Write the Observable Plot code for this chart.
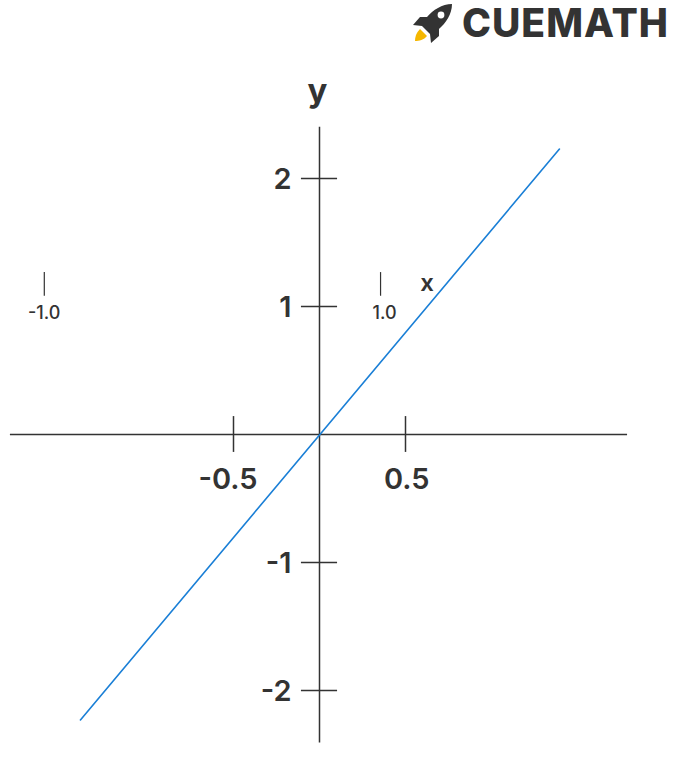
<!DOCTYPE html>
<html>
<head>
<meta charset="utf-8">
<script src="https://cdn.jsdelivr.net/npm/d3@7"></script>
<script src="https://cdn.jsdelivr.net/npm/@observablehq/plot@0.6"></script>
<style>
  html, body { margin: 0; padding: 0; background: #fff; }
  #wrap { position: relative; width: 693px; height: 781px; }
  #logo { position: absolute; left: 412px; top: 3px; width: 275px; display: flex; align-items: center; white-space: nowrap; }
  #logo span { font-family: Inter, "DejaVu Sans", sans-serif; font-weight: 800; font-size: 39px; color: #333; margin-left: 9px; line-height: 40px; letter-spacing: 1px; }
  svg { font-family: Inter, "Noto Sans", sans-serif; }
</style>
</head>
<body>
<div id="wrap">
  <div id="chart"></div>
  <div id="logo">
    <svg width="41" height="40" viewBox="0 0 41 40">
      <path d="M40 1 C30 1 21 7 15 14 L8 14 L1 22 L10 23 L18 31 L19 40 L27 33 L27 26 C34 20 40 11 40 1 Z" fill="#333"/>
      <circle cx="29" cy="12" r="3.4" fill="#fff"/>
      <path d="M8 26 L15 33 C12 37 7 38 3 38 C3 34 4 30 8 26 Z" fill="#f5b700"/>
    </svg>
    <span>CUEMATH</span>
  </div>
</div>
<script>
// ---- data ----
const xTickValues = [-0.5, 0.5];
const xTickLabels = ["-0.5", "0.5"];
const yTickValues = [-2, -1, 1, 2];
const yTickLabels = ["-2", "-1", "1", "2"];
const lineX = [-1.39, 1.395];
const lineY = [-2.23, 2.23];
const xAxisExtent = [-1.797, 1.791];
const yAxisExtent = [-2.41, 2.40];
const strayTickX = [-1.6, 0.355];
const strayTickLabels = ["-1.0", "1.0"];
const strayTickY = [1.08, 1.265];
const strayLabelY = 0.945;
const xLabel = {x: 0.625, y: 1.18, text: "x"};
const yLabel = {text: "y"};

const W = 693, H = 781;
const ink = "#333333";

const linePts = lineX.map((x, i) => ({x, y: lineY[i]}));
const xTicks = xTickValues.map((v, i) => ({v, label: xTickLabels[i]}));
const yTicks = yTickValues.map((v, i) => ({v, label: yTickLabels[i]}));
const stray = strayTickX.map((v, i) => ({v, label: strayTickLabels[i]}));

const plot = Plot.plot({
  width: W,
  height: H,
  margin: 0,
  x: {domain: [-319 / 172, (W - 319) / 172], axis: null},
  y: {domain: [-(H - 434) / 128, 434 / 128], axis: null},
  marks: [
    // axes
    Plot.ruleY([0], {x1: xAxisExtent[0], x2: xAxisExtent[1], stroke: ink, strokeWidth: 1.5}),
    Plot.ruleX([0], {y1: yAxisExtent[0], y2: yAxisExtent[1], stroke: ink, strokeWidth: 1.5}),
    // x ticks
    Plot.ruleX(xTicks, {x: "v", y1: -0.14, y2: 0.14, stroke: ink, strokeWidth: 1.5}),
    Plot.text(xTicks, {x: "v", y: 0, text: "label", textAnchor: "end", dy: 45, dx: 24, fontSize: 29, fontWeight: 600, fill: ink}),
    // y ticks
    Plot.ruleY(yTicks, {y: "v", x1: -0.105, x2: 0.105, stroke: ink, strokeWidth: 1.5}),
    Plot.text(yTicks, {x: 0, y: "v", text: "label", textAnchor: "end", dx: -28, dy: 1, fontSize: 29, fontWeight: 600, fill: ink}),
    // stray ticks
    Plot.ruleX(stray, {x: "v", y1: strayTickY[0], y2: strayTickY[1], stroke: ink, strokeWidth: 1.2}),
    Plot.text(stray, {x: "v", y: strayLabelY, text: "label", textAnchor: "end", dx: 16, fontSize: 18, fontWeight: 500, fill: ink}),
    // axis labels
    Plot.text([xLabel], {x: "x", y: "y", text: "text", fontSize: 24, fontWeight: 600, fill: ink}),
    Plot.text([yLabel], {x: 0, y: yAxisExtent[1], text: "text", dy: -36, dx: -2, fontSize: 33, fontWeight: 700, fill: ink}),
    // function line
    Plot.line(linePts, {x: "x", y: "y", stroke: "#1a7fd6", strokeWidth: 1.6})
  ]
});
document.getElementById("chart").appendChild(plot);
</script>
</body>
</html>
